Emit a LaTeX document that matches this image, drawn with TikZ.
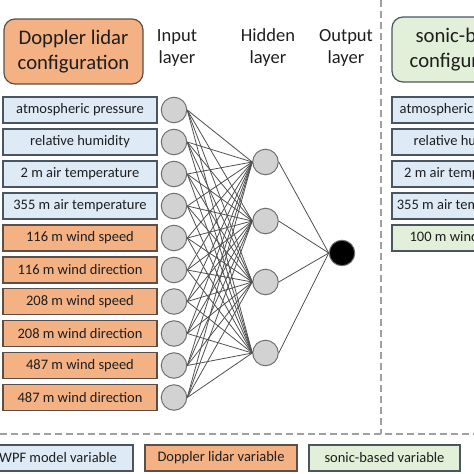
\documentclass[tikz,border=0pt]{standalone}
\usepackage{fontspec}
\setmainfont{Carlito}
\definecolor{bfill}{HTML}{DEEBF7}
\definecolor{ofill}{HTML}{F4B183}
\definecolor{gfill}{HTML}{E2F0D9}
\definecolor{bdraw}{HTML}{4A5560}
\definecolor{odraw}{HTML}{5A5048}
\definecolor{txt}{HTML}{1E1E1E}
\definecolor{cfill}{HTML}{D2D2D2}
\definecolor{cdraw}{HTML}{707070}
\definecolor{edge}{HTML}{505050}
\definecolor{sep}{HTML}{A0A0A0}
\begin{document}
\begin{tikzpicture}[x=1pt,y=-1pt,
  varbox/.style={draw, line width=1.2pt, minimum width=154pt, minimum height=26pt, inner sep=0pt, text=txt, font=\fontsize{14.5}{16}\selectfont},
  bluebox/.style={varbox, fill=bfill, draw=bdraw},
  orangebox/.style={varbox, fill=ofill, draw=odraw},
  greenbox/.style={varbox, fill=gfill, draw=bdraw},
  titlebox/.style={draw, line width=1.2pt, rounded corners=11pt, minimum width=139pt, minimum height=65pt, inner sep=0pt, align=center, text=txt, font=\fontsize{20.7}{25}\selectfont},
  layerlbl/.style={align=center, text=txt, font=\fontsize{18.5}{22}\selectfont, inner sep=0pt},
  neuron/.style={circle, draw=cdraw, fill=cfill, line width=1pt, minimum size=25.5pt, inner sep=0pt},
  outneuron/.style={circle, draw=cdraw, fill=black, line width=1pt, minimum size=25.5pt, inner sep=0pt},
  conn/.style={draw=edge, line width=0.8pt},
  sepline/.style={draw=sep, line width=1.8pt, dash pattern=on 7pt off 4pt}
]
\useasboundingbox (0,0) rectangle (474,474);
\clip (0,0) rectangle (474,474);

% titles
\node[titlebox, fill=ofill, draw=odraw] (tleft) at (73.5,51.5) {Doppler lidar\\configuration};
\node[titlebox, fill=gfill, draw=bdraw, minimum width=147pt] (tright) at (465.5,49.5) {sonic-based\\configuration};

% layer labels
\node[layerlbl] (linput) at (177,48) {Input\\layer};
\node[layerlbl] (lhidden) at (268,48) {Hidden\\layer};
\node[layerlbl] (loutput) at (346,48) {Output\\layer};

% left variable boxes
\node[bluebox] (v1) at (80,110) {atmospheric pressure};
\node[bluebox] (v2) at (80,142) {relative humidity};
\node[bluebox] (v3) at (80,174) {2 m air temperature};
\node[bluebox] (v4) at (80,206) {355 m air temperature};
\node[orangebox] (v5) at (80,238) {116 m wind speed};
\node[orangebox] (v6) at (80,270) {116 m wind direction};
\node[orangebox] (v7) at (80,301.5) {208 m wind speed};
\node[orangebox] (v8) at (80,333.5) {208 m wind direction};
\node[orangebox] (v9) at (80,365.5) {487 m wind speed};
\node[orangebox] (v10) at (80,397.5) {487 m wind direction};

% right variable boxes
\node[bluebox, minimum width=143pt] (r1) at (463.5,110) {atmospheric pressure};
\node[bluebox, minimum width=143pt] (r2) at (463.5,142) {relative humidity};
\node[bluebox, minimum width=143pt] (r3) at (463.5,174) {2 m air temperature};
\node[bluebox, minimum width=143pt] (r4) at (463.5,206) {355 m air temperature};
\node[greenbox, minimum width=143pt] (r5) at (463.5,238) {100 m wind speed};

% connections (drawn first, neurons on top)
\foreach \i/\y in {1/110,2/142,3/174,4/206,5/238,6/270,7/301.5,8/333.5,9/365.5,10/397.5}
  \coordinate (ci\i) at (174,\y);
\foreach \j/\y in {1/162,2/221,3/282,4/353}
  \coordinate (ch\j) at (265.5,\y);
\coordinate (co) at (342,253);

% input neurons
\foreach \i/\y in {1/110,2/142,3/174,4/206,5/238,6/270,7/301.5,8/333.5,9/365.5,10/397.5}
  \node[neuron] (i\i) at (174,\y) {};
% hidden neurons
\foreach \j/\y in {1/162,2/221,3/282,4/353}
  \node[neuron] (h\j) at (265.5,\y) {};
% output neuron
\node[outneuron] (o) at (342,253) {};

\foreach \i in {1,...,10}
  \foreach \j in {1,...,4}
    \draw[conn] (i\i.east) -- (h\j.west);
\foreach \j in {1,...,4}
  \draw[conn] (h\j.east) -- (o.west);

% separators
\coordinate (vs) at (381,0);
\coordinate (ve) at (381,434);
\coordinate (hs) at (0,434);
\coordinate (he) at (474,434);
\draw[sepline] (vs) -- (ve);
\draw[sepline] (hs) -- (he);

% legend
\node[bluebox, minimum width=150pt] (leg1) at (58,458) {WPF model variable};
\node[orangebox, minimum width=152pt] (leg2) at (221,458) {Doppler lidar variable};
\node[greenbox, minimum width=151pt] (leg3) at (384.5,458) {sonic-based variable};
\end{tikzpicture}
\end{document}
